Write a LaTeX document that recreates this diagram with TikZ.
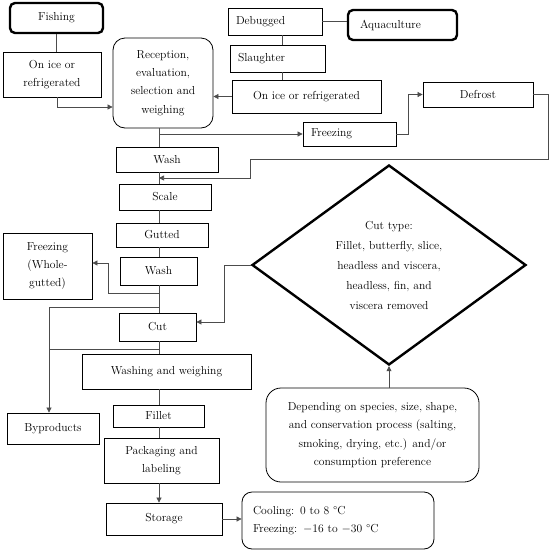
\documentclass[tikz,border=0pt]{standalone}
\usetikzlibrary{shapes.geometric,arrows.meta}
\begin{document}
\begin{tikzpicture}[x=1pt,y=-1pt,
  box/.style={draw=black, line width=0.8pt, inner sep=0pt, align=center, font=\fontsize{11.6}{18.3}\selectfont},
  lbox/.style={box, align=left, inner xsep=8pt},
  thickbox/.style={box, line width=2.4pt, rounded corners=5pt},
  rbox/.style={box, rounded corners=12pt},
  conn/.style={draw=black!70, line width=0.7pt},
  arr/.style={conn, -{Triangle[length=5pt,width=5pt]}},
  diabox/.style={diamond, draw=black, line width=2.4pt, inner sep=0pt},
  diatxt/.style={align=center, font=\fontsize{11.6}{20}\selectfont}
]
\useasboundingbox (0,0) rectangle (550,552);

% nodes
\node[thickbox, minimum width=93pt, minimum height=30pt] (fishing) at (56.5,18) {Fishing};
\node[box, minimum width=98pt, minimum height=45pt] (icel) at (52,74.5) {On ice or\\refrigerated};
\node[rbox, minimum width=100pt, minimum height=90pt] (rec) at (163,83) {Reception,\\evaluation,\\selection and\\weighing};
\node[lbox, text width=78pt, minimum height=27pt] (debug) at (275,21.5) {Debugged};
\node[thickbox, align=left, inner xsep=12pt, text width=85pt, minimum height=30pt] (aqua) at (402.5,25) {Aquaculture};
\node[lbox, text width=79pt, minimum height=27pt] (slau) at (277.5,58.5) {Slaughter};
\node[box, minimum width=149pt, minimum height=33pt] (icer) at (306.5,96.5) {On ice or refrigerated};
\node[box, minimum width=110pt, minimum height=25pt] (defrost) at (478,94.5) {Defrost};
\node[lbox, text width=77pt, minimum height=24pt] (frz) at (349.5,134) {Freezing};
\node[box, minimum width=102pt, minimum height=25pt] (wash1) at (167,159.5) {Wash};
\node[box, minimum width=92pt, minimum height=26pt] (scale) at (165,197) {Scale};
\node[box, minimum width=92pt, minimum height=24pt] (gutted) at (162,235) {Gutted};
\node[box, minimum width=77pt, minimum height=28pt] (wash2) at (158.5,271) {Wash};
\node[box, minimum width=89pt, minimum height=66pt] (fwg) at (47.5,266) {Freezing\\(Whole-\\gutted)};
\node[box, minimum width=77pt, minimum height=28pt] (cut) at (157.5,327) {Cut};
\node[box, minimum width=169pt, minimum height=35pt] (washw) at (166.5,371.5) {Washing and weighing};
\node[box, minimum width=91pt, minimum height=22pt] (fillet) at (158.5,416) {Fillet};
\node[box, minimum width=92pt, minimum height=31pt] (byp) at (53,428.5) {Byproducts};
\node[box, minimum width=115pt, minimum height=45pt] (pack) at (161.5,460.5) {Packaging and\\labeling};
\node[box, minimum width=116pt, minimum height=32pt] (stor) at (164,519) {Storage};
\node[rbox, rounded corners=10pt, align=left, inner xsep=11pt, text width=170pt, minimum height=57pt] (cool) at (338,520.5) {Cooling: 0 to 8 \textdegree C\\Freezing: $-$16 to $-$30 \textdegree C};
\node[rbox, rounded corners=15pt, minimum width=213pt, minimum height=94pt] (dep) at (372.5,435) {Depending on species, size, shape,\\and conservation process (salting,\\smoking, drying, etc.) and/or\\consumption preference};
\node[diabox, minimum width=274pt, minimum height=200pt] (dia) at (389,265) {};
\node[diatxt] (diat) at (dia.center) {Cut type:\\Fillet, butterfly, slice,\\headless and viscera,\\headless, fin, and\\viscera removed};

% helper coordinates
\coordinate (spine) at (159,0);
\coordinate (col) at (282,0);
\coordinate (a1) at (57,107);
\coordinate (r1) at (548,159);
\coordinate (r2) at (250,178);
\coordinate (b1) at (159,293);
\coordinate (b2) at (108,263);
\coordinate (p1) at (159,307);
\coordinate (p2) at (159,349);
\coordinate (pl) at (49,307);
\coordinate (c1) at (224,322);

% connectors
\draw[conn] (fishing.south) -- (fishing.south |- icel.north);
\draw[arr] (icel.south -| a1) |- (rec.west |- a1);
\draw[arr] (icer.west) -- (icer.west -| rec.east);
\draw[conn] (debug.east) -- (debug.east -| aqua.west);
\draw[conn] (debug.south -| col) -- (slau.north -| col);
\draw[conn] (slau.south -| col) -- (icer.north -| col);
\draw[arr] (rec.south -| spine) |- (frz.west);
\draw[arr] (frz.east) -- ++(12,0) |- (defrost.west);
\draw[arr] (defrost.east) -| (r1) -| (r2) -- (r2 -| spine);
\draw[conn] (rec.south -| spine) -- (wash1.north -| spine);
\draw[conn] (wash1.south -| spine) -- (scale.north -| spine);
\draw[conn] (scale.south -| spine) -- (gutted.north -| spine);
\draw[conn] (gutted.south -| spine) -- (wash2.north -| spine);
\draw[conn] (wash2.south -| spine) -- (cut.north -| spine);
\draw[conn] (cut.south -| spine) -- (washw.north -| spine);
\draw[conn] (washw.south -| spine) -- (fillet.north -| spine);
\draw[conn] (fillet.south -| spine) -- (pack.north -| spine);
\draw[arr] (pack.south -| spine) -- (stor.north -| spine);
\draw[arr] (b1) -| (b2) -- (b2 -| fwg.east);
\draw[arr] (p1) -- (pl) -- (pl |- byp.north);
\draw[conn] (p2) -- (p2 -| pl);
\draw[arr] (dia.west) -| (c1) -- (c1 -| cut.east);
\draw[arr] (dep.north -| dia.south) -- (dia.south);
\draw[arr] (stor.east) -- (stor.east -| cool.west);
\end{tikzpicture}
\end{document}
